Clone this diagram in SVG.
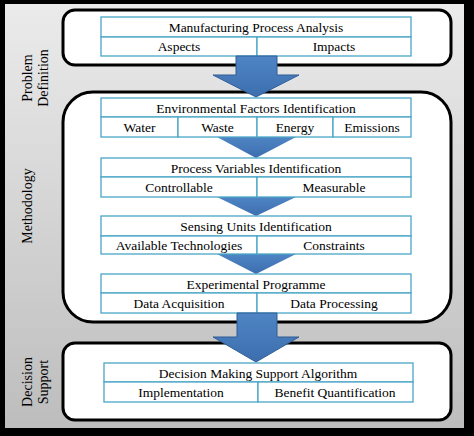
<svg xmlns="http://www.w3.org/2000/svg" width="474" height="436" viewBox="0 0 474 436">
<defs>
<linearGradient id="bg" x1="0" y1="0" x2="0" y2="1">
<stop offset="0" stop-color="#ebebeb"/>
<stop offset="1" stop-color="#bdbdbd"/>
</linearGradient>
<linearGradient id="ar" x1="0" y1="0" x2="0" y2="1">
<stop offset="0" stop-color="#4f85c4"/>
<stop offset="1" stop-color="#3c6eae"/>
</linearGradient>
<style>
.panel{fill:#fff;stroke:#000;stroke-width:3}
.cell{fill:#fff;stroke:#4aa6c6;stroke-width:1.3}
text{font-family:'Liberation Serif','Times New Roman','DejaVu Serif',serif;fill:#000;text-anchor:middle}
.t{font-size:13.5px}
.lbl{font-size:14px}
.arrow{fill:url(#ar);stroke:#2f5d96;stroke-width:1}
.tri{fill:url(#ar);stroke:none}
</style>
</defs>
<rect x="0" y="0" width="474" height="436" fill="#000"/>
<rect x="5" y="4" width="459" height="424" fill="url(#bg)"/>

<g id="labels">
<text class="lbl" transform="translate(32,78) rotate(-90)">Problem</text>
<text class="lbl" transform="translate(48,78) rotate(-90)">Definition</text>
<text class="lbl" transform="translate(32,206) rotate(-90)">Methodology</text>
<text class="lbl" transform="translate(32,382) rotate(-90)">Decision</text>
<text class="lbl" transform="translate(48,382) rotate(-90)">Support</text>
</g>

<g id="panel-problem">
<rect class="panel" x="63" y="10" width="388" height="55" rx="12"/>
<rect class="cell" x="101" y="17" width="310" height="20"/>
<rect class="cell" x="101" y="37" width="156" height="19"/>
<rect class="cell" x="257" y="37" width="154" height="19"/>
<text class="t" x="256" y="32">Manufacturing Process Analysis</text>
<text class="t" x="179" y="51">Aspects</text>
<text class="t" x="334" y="51">Impacts</text>
</g>

<g id="panel-methodology">
<rect class="panel" x="63" y="92" width="388" height="230" rx="30"/>
</g>

<g id="connectors">
<path class="arrow" d="M236,56 H277 V75 H299 L256,97 L213,75 H236 Z"/>
<path class="tri" d="M217,137 H296 L256,158 Z"/>
<path class="tri" d="M217,197 H296 L256,216 Z"/>
<path class="tri" d="M217,254 H296 L256,274 Z"/>
</g>

<g id="env">
<rect class="cell" x="101" y="98" width="310" height="19"/>
<rect class="cell" x="101" y="117" width="77" height="20"/>
<rect class="cell" x="178" y="117" width="79" height="20"/>
<rect class="cell" x="257" y="117" width="76" height="20"/>
<rect class="cell" x="333" y="117" width="78" height="20"/>
<text class="t" x="256" y="113">Environmental Factors Identification</text>
<text class="t" x="139.5" y="132">Water</text>
<text class="t" x="217.5" y="132">Waste</text>
<text class="t" x="295" y="132">Energy</text>
<text class="t" x="372" y="132">Emissions</text>
</g>

<g id="process">
<rect class="cell" x="101" y="158" width="310" height="19"/>
<rect class="cell" x="101" y="177" width="156" height="20"/>
<rect class="cell" x="257" y="177" width="154" height="20"/>
<text class="t" x="256" y="173">Process Variables Identification</text>
<text class="t" x="179" y="192">Controllable</text>
<text class="t" x="334" y="192">Measurable</text>
</g>

<g id="sensing">
<rect class="cell" x="101" y="216" width="310" height="20"/>
<rect class="cell" x="101" y="236" width="156" height="18"/>
<rect class="cell" x="257" y="236" width="154" height="18"/>
<text class="t" x="256" y="231">Sensing Units Identification</text>
<text class="t" x="179" y="250">Available Technologies</text>
<text class="t" x="334" y="250">Constraints</text>
</g>

<g id="experimental">
<rect class="cell" x="101" y="274" width="310" height="19"/>
<rect class="cell" x="101" y="293" width="156" height="20"/>
<rect class="cell" x="257" y="293" width="154" height="20"/>
<text class="t" x="256" y="289">Experimental Programme</text>
<text class="t" x="179" y="308">Data Acquisition</text>
<text class="t" x="334" y="308">Data Processing</text>
</g>

<g id="panel-decision">
<rect class="panel" x="63" y="343" width="388" height="77" rx="12"/>
</g>

<g id="connector-2">
<path class="arrow" d="M237,313 H277 V337 H299 L256,362 L213,337 H237 Z"/>
</g>

<g id="dms">
<rect class="cell" x="104" y="363" width="309" height="19"/>
<rect class="cell" x="104" y="382" width="154" height="20"/>
<rect class="cell" x="258" y="382" width="155" height="20"/>
<text class="t" x="258" y="378">Decision Making Support Algorithm</text>
<text class="t" x="181" y="397">Implementation</text>
<text class="t" x="335" y="397">Benefit Quantification</text>
</g>
</svg>
